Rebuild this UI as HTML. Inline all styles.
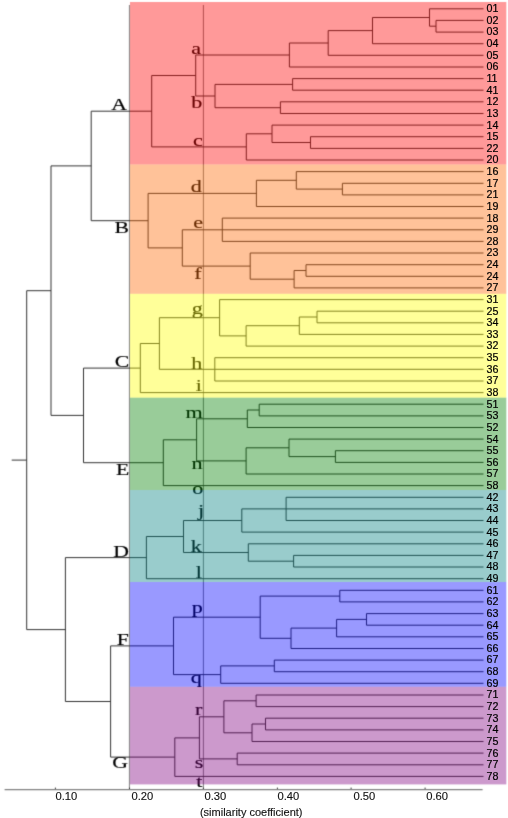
<!DOCTYPE html>
<html><head><meta charset="utf-8"><title>Dendrogram</title>
<style>
html,body{margin:0;padding:0;background:#fff;}
body{width:508px;height:818px;overflow:hidden;}
svg{display:block;}
.ln{stroke:#333333;stroke-width:1.0;fill:none;shape-rendering:geometricPrecision;}
.ref{stroke:#808080;stroke-width:1;}
.up{font-family:"Liberation Serif",serif;font-size:16px;fill:#000;stroke:#000;stroke-width:0.15px;}
.lo{font-family:"Liberation Serif",serif;font-size:16px;fill:#000;stroke:#000;stroke-width:0.15px;}
.lb{font-family:"Liberation Sans",sans-serif;font-size:10.4px;fill:#000;stroke:#000;stroke-width:0.2px;}
.ax{font-family:"Liberation Sans",sans-serif;font-size:10.2px;fill:#111;stroke:#111;stroke-width:0.12px;}
</style></head><body>
<svg width="508" height="818" viewBox="0 0 508 818">
<defs><filter id="bl" x="0" y="0" width="508" height="818" filterUnits="userSpaceOnUse" color-interpolation-filters="sRGB"><feConvolveMatrix order="3" kernelMatrix="0.0169 0.0962 0.0169 0.0962 0.5476 0.0962 0.0169 0.0962 0.0169" divisor="1" edgeMode="duplicate" preserveAlpha="true"/></filter></defs>
<g filter="url(#bl)">
<rect x="0" y="0" width="508" height="818" fill="#fff"/>
<line class="ref" x1="129.4" y1="5" x2="129.4" y2="789"/>
<line class="ref" x1="203.4" y1="5" x2="203.4" y2="789"/>
<path class="ln" d="M429.5 8.8L483.5 8.8M436.0 20.4L483.5 20.4M436.0 32.1L483.5 32.1M436.0 20.4L436.0 32.1M429.5 26.2L436.0 26.2M429.5 8.8L429.5 26.2M372.5 17.5L429.5 17.5M372.5 43.7L483.5 43.7M372.5 17.5L372.5 43.7M328.2 30.6L372.5 30.6M328.2 55.3L483.5 55.3M328.2 30.6L328.2 55.3M289.4 43.0L328.2 43.0M289.4 67.0L483.5 67.0M289.4 43.0L289.4 67.0M195.7 55.0L289.4 55.0M292.6 78.6L483.5 78.6M292.6 90.2L483.5 90.2M292.6 78.6L292.6 90.2M215.0 84.4L292.6 84.4M280.4 101.8L483.5 101.8M280.4 113.5L483.5 113.5M280.4 101.8L280.4 113.5M215.0 107.7L280.4 107.7M215.0 84.4L215.0 107.7M195.7 96.0L215.0 96.0M195.7 55.0L195.7 96.0M151.7 75.5L195.7 75.5M272.0 125.1L483.5 125.1M310.5 136.7L483.5 136.7M310.5 148.4L483.5 148.4M310.5 136.7L310.5 148.4M272.0 142.5L310.5 142.5M272.0 125.1L272.0 142.5M246.3 133.8L272.0 133.8M246.3 160.0L483.5 160.0M246.3 133.8L246.3 160.0M151.7 146.9L246.3 146.9M151.7 75.5L151.7 146.9M91.2 111.2L151.7 111.2M296.3 171.6L483.5 171.6M342.4 183.3L483.5 183.3M342.4 194.9L483.5 194.9M342.4 183.3L342.4 194.9M296.3 189.1L342.4 189.1M296.3 171.6L296.3 189.1M256.4 180.3L296.3 180.3M256.4 206.5L483.5 206.5M256.4 180.3L256.4 206.5M148.1 193.4L256.4 193.4M222.3 218.1L483.5 218.1M222.3 229.8L483.5 229.8M222.3 241.4L483.5 241.4M222.3 218.1L222.3 241.4M182.3 229.8L222.3 229.8M250.2 253.0L483.5 253.0M306.0 264.7L483.5 264.7M306.0 276.3L483.5 276.3M306.0 264.7L306.0 276.3M294.1 270.5L306.0 270.5M294.1 287.9L483.5 287.9M294.1 270.5L294.1 287.9M250.2 279.2L294.1 279.2M250.2 253.0L250.2 279.2M182.3 266.1L250.2 266.1M182.3 229.8L182.3 266.1M148.1 247.9L182.3 247.9M148.1 193.4L148.1 247.9M91.2 220.7L148.1 220.7M91.2 111.2L91.2 220.7M51.0 165.9L91.2 165.9M219.6 299.6L483.5 299.6M317.0 311.2L483.5 311.2M317.0 322.8L483.5 322.8M317.0 311.2L317.0 322.8M299.3 317.0L317.0 317.0M299.3 334.4L483.5 334.4M299.3 317.0L299.3 334.4M246.1 325.7L299.3 325.7M246.1 346.1L483.5 346.1M246.1 325.7L246.1 346.1M219.6 335.9L246.1 335.9M219.6 299.6L219.6 335.9M159.4 317.7L219.6 317.7M214.8 357.7L483.5 357.7M214.8 369.3L483.5 369.3M214.8 381.0L483.5 381.0M214.8 357.7L214.8 381.0M159.4 369.3L214.8 369.3M159.4 317.7L159.4 369.3M140.3 343.5L159.4 343.5M140.3 392.6L483.5 392.6M140.3 343.5L140.3 392.6M83.5 368.1L140.3 368.1M259.2 404.2L483.5 404.2M259.2 415.9L483.5 415.9M259.2 404.2L259.2 415.9M247.3 410.0L259.2 410.0M247.3 427.5L483.5 427.5M247.3 410.0L247.3 427.5M196.6 418.8L247.3 418.8M289.0 439.1L483.5 439.1M335.4 450.7L483.5 450.7M335.4 462.4L483.5 462.4M335.4 450.7L335.4 462.4M289.0 456.6L335.4 456.6M289.0 439.1L289.0 456.6M246.1 447.8L289.0 447.8M246.1 474.0L483.5 474.0M246.1 447.8L246.1 474.0M196.6 460.9L246.1 460.9M196.6 418.8L196.6 460.9M163.3 439.8L196.6 439.8M163.3 485.6L483.5 485.6M163.3 439.8L163.3 485.6M83.5 462.7L163.3 462.7M83.5 368.1L83.5 462.7M51.0 415.4L83.5 415.4M51.0 165.9L51.0 415.4M26.7 290.7L51.0 290.7M286.1 497.3L483.5 497.3M286.1 508.9L483.5 508.9M286.1 520.5L483.5 520.5M286.1 497.3L286.1 520.5M241.8 508.9L286.1 508.9M241.8 532.1L483.5 532.1M241.8 508.9L241.8 532.1M183.5 520.5L241.8 520.5M248.3 543.8L483.5 543.8M293.6 555.4L483.5 555.4M293.6 567.0L483.5 567.0M293.6 555.4L293.6 567.0M248.3 561.2L293.6 561.2M248.3 543.8L248.3 561.2M183.5 552.5L248.3 552.5M183.5 520.5L183.5 552.5M146.4 536.5L183.5 536.5M146.4 578.7L483.5 578.7M146.4 536.5L146.4 578.7M65.4 557.6L146.4 557.6M339.8 590.3L483.5 590.3M339.8 601.9L483.5 601.9M339.8 590.3L339.8 601.9M260.2 596.1L339.8 596.1M366.5 613.6L483.5 613.6M366.5 625.2L483.5 625.2M366.5 613.6L366.5 625.2M336.6 619.4L366.5 619.4M336.6 636.8L483.5 636.8M336.6 619.4L336.6 636.8M291.0 628.1L336.6 628.1M291.0 648.5L483.5 648.5M291.0 628.1L291.0 648.5M260.2 638.3L291.0 638.3M260.2 596.1L260.2 638.3M173.5 617.2L260.2 617.2M274.3 660.1L483.5 660.1M274.3 671.7L483.5 671.7M274.3 660.1L274.3 671.7M220.7 665.9L274.3 665.9M220.7 683.3L483.5 683.3M220.7 665.9L220.7 683.3M173.5 674.6L220.7 674.6M173.5 617.2L173.5 674.6M110.6 645.9L173.5 645.9M256.1 695.0L483.5 695.0M256.1 706.6L483.5 706.6M256.1 695.0L256.1 706.6M223.9 700.8L256.1 700.8M265.5 718.2L483.5 718.2M265.5 729.9L483.5 729.9M265.5 718.2L265.5 729.9M252.0 724.0L265.5 724.0M252.0 741.5L483.5 741.5M252.0 724.0L252.0 741.5M223.9 732.8L252.0 732.8M223.9 700.8L223.9 732.8M199.4 716.8L223.9 716.8M237.2 753.1L483.5 753.1M237.2 764.8L483.5 764.8M237.2 753.1L237.2 764.8M199.4 758.9L237.2 758.9M199.4 716.8L199.4 758.9M174.8 737.9L199.4 737.9M174.8 776.4L483.5 776.4M174.8 737.9L174.8 776.4M110.6 757.1L174.8 757.1M110.6 645.9L110.6 757.1M65.4 701.5L110.6 701.5M65.4 557.6L65.4 701.5M26.7 629.6L65.4 629.6M26.7 290.7L26.7 629.6M11.7 460.1L26.7 460.1"/>
<text class="up" transform="translate(111.34 109.78) scale(1.360 1)">A</text>
<text class="up" transform="translate(114.51 233.10) scale(1.360 1)">B</text>
<text class="up" transform="translate(114.73 367.25) scale(1.360 1)">C</text>
<text class="up" transform="translate(116.01 474.59) scale(1.360 1)">E</text>
<text class="up" transform="translate(113.20 557.19) scale(1.360 1)">D</text>
<text class="up" transform="translate(116.68 644.94) scale(1.360 1)">F</text>
<text class="up" transform="translate(112.29 768.30) scale(1.360 1)">G</text>
<text class="lo" transform="translate(191.31 53.58) scale(1.380 1)">a</text>
<text class="lo" transform="translate(191.24 108.48) scale(1.380 1)">b</text>
<text class="lo" transform="translate(192.94 146.28) scale(1.380 1)">c</text>
<text class="lo" transform="translate(190.78 192.33) scale(1.380 1)">d</text>
<text class="lo" transform="translate(193.25 228.23) scale(1.380 1)">e</text>
<text class="lo" transform="translate(194.20 278.54) scale(1.380 1)">f</text>
<text class="lo" transform="translate(191.70 313.66) scale(1.380 1)">g</text>
<text class="lo" transform="translate(191.19 368.56) scale(1.380 1)">h</text>
<text class="lo" transform="translate(195.86 390.98) scale(1.380 1)">i</text>
<text class="lo" transform="translate(185.52 418.41) scale(1.380 1)">m</text>
<text class="lo" transform="translate(191.59 469.31) scale(1.380 1)">n</text>
<text class="lo" transform="translate(192.14 493.78) scale(1.380 1)">o</text>
<text class="lo" transform="translate(198.10 516.16) scale(1.380 1)">j</text>
<text class="lo" transform="translate(190.86 551.66) scale(1.380 1)">k</text>
<text class="lo" transform="translate(195.86 577.91) scale(1.380 1)">l</text>
<text class="lo" transform="translate(191.74 612.59) scale(1.380 1)">p</text>
<text class="lo" transform="translate(190.70 683.32) scale(1.380 1)">q</text>
<text class="lo" transform="translate(195.02 715.16) scale(1.380 1)">r</text>
<text class="lo" transform="translate(194.76 767.53) scale(1.380 1)">s</text>
<text class="lo" transform="translate(196.24 786.79) scale(1.380 1)">t</text>
<rect x="130.0" y="2.0" width="376.3" height="162.5" fill="rgba(255,0,0,0.4)"/>
<rect x="130.0" y="164.5" width="376.3" height="129.3" fill="rgba(255,102,0,0.4)"/>
<rect x="130.0" y="293.8" width="376.3" height="103.9" fill="rgba(255,255,0,0.4)"/>
<rect x="130.0" y="397.7" width="376.3" height="92.3" fill="rgba(0,128,0,0.4)"/>
<rect x="130.0" y="490.0" width="376.3" height="92.0" fill="rgba(0,128,128,0.4)"/>
<rect x="130.0" y="582.0" width="376.3" height="104.8" fill="rgba(0,0,255,0.4)"/>
<rect x="130.0" y="686.8" width="376.3" height="97.6" fill="rgba(128,0,128,0.4)"/>
<path d="M4.6 789.6H482.6" stroke="#808080" stroke-width="1.1" fill="none"/>
<path d="M55.4 789V787.6M129.5 789V787.6M203.4 789V787.6M277.4 789V787.6M351.1 789V787.6M425.1 789V787.6" stroke="#333" stroke-width="1" fill="none"/>
</g>
<text class="lb" transform="translate(486.44 12.20) scale(1.03 1)">01</text>
<text class="lb" transform="translate(486.44 23.83) scale(1.03 1)">02</text>
<text class="lb" transform="translate(486.44 35.46) scale(1.03 1)">03</text>
<text class="lb" transform="translate(486.44 47.09) scale(1.03 1)">04</text>
<text class="lb" transform="translate(486.44 58.72) scale(1.03 1)">05</text>
<text class="lb" transform="translate(486.44 70.35) scale(1.03 1)">06</text>
<text class="lb" transform="translate(486.44 81.98) scale(1.03 1)">11</text>
<text class="lb" transform="translate(486.44 93.61) scale(1.03 1)">41</text>
<text class="lb" transform="translate(486.44 105.24) scale(1.03 1)">12</text>
<text class="lb" transform="translate(486.44 116.87) scale(1.03 1)">13</text>
<text class="lb" transform="translate(486.44 128.50) scale(1.03 1)">14</text>
<text class="lb" transform="translate(486.44 140.13) scale(1.03 1)">15</text>
<text class="lb" transform="translate(486.44 151.76) scale(1.03 1)">22</text>
<text class="lb" transform="translate(486.44 163.39) scale(1.03 1)">20</text>
<text class="lb" transform="translate(486.44 175.02) scale(1.03 1)">16</text>
<text class="lb" transform="translate(486.44 186.65) scale(1.03 1)">17</text>
<text class="lb" transform="translate(486.44 198.28) scale(1.03 1)">21</text>
<text class="lb" transform="translate(486.44 209.91) scale(1.03 1)">19</text>
<text class="lb" transform="translate(486.44 221.54) scale(1.03 1)">18</text>
<text class="lb" transform="translate(486.44 233.17) scale(1.03 1)">29</text>
<text class="lb" transform="translate(486.44 244.80) scale(1.03 1)">28</text>
<text class="lb" transform="translate(486.44 256.43) scale(1.03 1)">23</text>
<text class="lb" transform="translate(486.44 268.06) scale(1.03 1)">24</text>
<text class="lb" transform="translate(486.44 279.69) scale(1.03 1)">24</text>
<text class="lb" transform="translate(486.44 291.32) scale(1.03 1)">27</text>
<text class="lb" transform="translate(486.44 302.95) scale(1.03 1)">31</text>
<text class="lb" transform="translate(486.44 314.58) scale(1.03 1)">25</text>
<text class="lb" transform="translate(486.44 326.21) scale(1.03 1)">34</text>
<text class="lb" transform="translate(486.44 337.84) scale(1.03 1)">33</text>
<text class="lb" transform="translate(486.44 349.47) scale(1.03 1)">32</text>
<text class="lb" transform="translate(486.44 361.10) scale(1.03 1)">35</text>
<text class="lb" transform="translate(486.44 372.73) scale(1.03 1)">36</text>
<text class="lb" transform="translate(486.44 384.36) scale(1.03 1)">37</text>
<text class="lb" transform="translate(486.44 395.99) scale(1.03 1)">38</text>
<text class="lb" transform="translate(486.44 407.62) scale(1.03 1)">51</text>
<text class="lb" transform="translate(486.44 419.25) scale(1.03 1)">53</text>
<text class="lb" transform="translate(486.44 430.88) scale(1.03 1)">52</text>
<text class="lb" transform="translate(486.44 442.51) scale(1.03 1)">54</text>
<text class="lb" transform="translate(486.44 454.14) scale(1.03 1)">55</text>
<text class="lb" transform="translate(486.44 465.77) scale(1.03 1)">56</text>
<text class="lb" transform="translate(486.44 477.40) scale(1.03 1)">57</text>
<text class="lb" transform="translate(486.44 489.03) scale(1.03 1)">58</text>
<text class="lb" transform="translate(486.44 500.66) scale(1.03 1)">42</text>
<text class="lb" transform="translate(486.44 512.29) scale(1.03 1)">43</text>
<text class="lb" transform="translate(486.44 523.92) scale(1.03 1)">44</text>
<text class="lb" transform="translate(486.44 535.55) scale(1.03 1)">45</text>
<text class="lb" transform="translate(486.44 547.18) scale(1.03 1)">46</text>
<text class="lb" transform="translate(486.44 558.81) scale(1.03 1)">47</text>
<text class="lb" transform="translate(486.44 570.44) scale(1.03 1)">48</text>
<text class="lb" transform="translate(486.44 582.07) scale(1.03 1)">49</text>
<text class="lb" transform="translate(486.44 593.70) scale(1.03 1)">61</text>
<text class="lb" transform="translate(486.44 605.33) scale(1.03 1)">62</text>
<text class="lb" transform="translate(486.44 616.96) scale(1.03 1)">63</text>
<text class="lb" transform="translate(486.44 628.59) scale(1.03 1)">64</text>
<text class="lb" transform="translate(486.44 640.22) scale(1.03 1)">65</text>
<text class="lb" transform="translate(486.44 651.85) scale(1.03 1)">66</text>
<text class="lb" transform="translate(486.44 663.48) scale(1.03 1)">67</text>
<text class="lb" transform="translate(486.44 675.11) scale(1.03 1)">68</text>
<text class="lb" transform="translate(486.44 686.74) scale(1.03 1)">69</text>
<text class="lb" transform="translate(486.44 698.37) scale(1.03 1)">71</text>
<text class="lb" transform="translate(486.44 710.00) scale(1.03 1)">72</text>
<text class="lb" transform="translate(486.44 721.63) scale(1.03 1)">73</text>
<text class="lb" transform="translate(486.44 733.26) scale(1.03 1)">74</text>
<text class="lb" transform="translate(486.44 744.89) scale(1.03 1)">75</text>
<text class="lb" transform="translate(486.44 756.52) scale(1.03 1)">76</text>
<text class="lb" transform="translate(486.44 768.15) scale(1.03 1)">77</text>
<text class="lb" transform="translate(486.44 779.78) scale(1.03 1)">78</text>
<text class="ax" transform="translate(55.41 800.3) scale(1.10 1)">0.10</text>
<text class="ax" transform="translate(131.41 800.3) scale(1.10 1)">0.20</text>
<text class="ax" transform="translate(204.41 800.3) scale(1.10 1)">0.30</text>
<text class="ax" transform="translate(277.40 800.3) scale(1.10 1)">0.40</text>
<text class="ax" transform="translate(353.40 800.3) scale(1.10 1)">0.50</text>
<text class="ax" transform="translate(426.20 800.3) scale(1.10 1)">0.60</text>
<text class="ax" transform="translate(251.2 815.8) scale(1.08 1)" text-anchor="middle">(similarity coefficient)</text>
</svg>
</body></html>
